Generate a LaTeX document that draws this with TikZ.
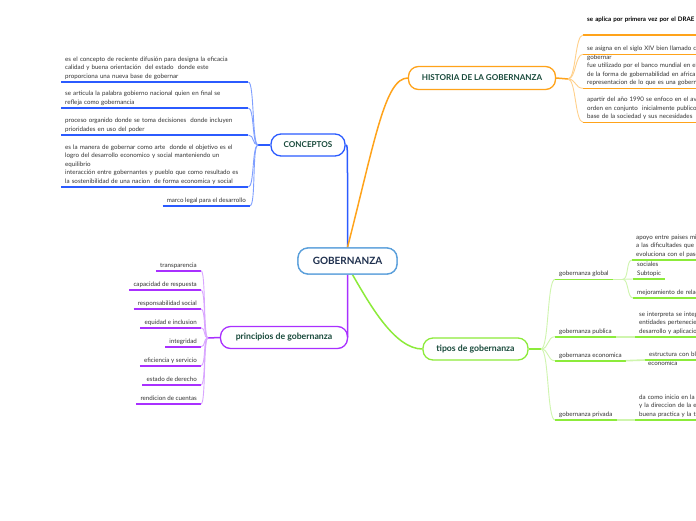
\documentclass[tikz,border=0pt]{standalone}
\usepackage{fontspec}
\setmainfont{Lato}
\definecolor{cblue}{HTML}{2B5BFF}
\definecolor{cblueL}{HTML}{7F9FFF}
\definecolor{corange}{HTML}{FFA31A}
\definecolor{corangeL}{HTML}{FFD08A}
\definecolor{cpurple}{HTML}{A930FF}
\definecolor{cpurpleL}{HTML}{D9A6FF}
\definecolor{cgreen}{HTML}{8CEB3A}
\definecolor{cgreenL}{HTML}{CFF5AE}
\definecolor{ccentral}{HTML}{5A9FDB}
\definecolor{htext}{HTML}{17493A}
\definecolor{ctext}{HTML}{1E2F4D}
\definecolor{btext}{HTML}{333333}
\newcommand{\mydd}[1]{\vrule width 0pt height 0pt depth #1}
\begin{document}
\begin{tikzpicture}[x=1pt,y=-1pt,
  hdr/.style={draw=#1, line width=1.3pt, fill=white, rounded corners=10pt,
    font=\fontsize{8.1}{9}\selectfont\bfseries, text=htext, inner sep=0pt},
  hdrl/.style={hdr=#1, font=\fontsize{8.7}{9}\selectfont\bfseries},
  item/.style={font=\fontsize{6.2}{8.5}\selectfont, text=btext, inner xsep=4pt,
    inner ysep=2pt, align=left, execute at end node={\mydd{1.5pt}}},
  ul/.style={draw=#1, line width=1.6pt},
  main/.style={draw=#1, line width=1.5pt},
  thin/.style={draw=#1, line width=0.9pt}
]
\useasboundingbox (0,0) rectangle (696,520);
\clip (0,0) rectangle (696,520);
\fill[white] (0,0) rectangle (696,520);

% ---------- header nodes ----------
\coordinate (pc) at (347.5,261);
\node[hdr=ccentral, minimum width=99pt, minimum height=26pt, font=\fontsize{10}{12}\selectfont\bfseries, text=ctext] (central) at (pc) {GOBERNANZA};
\node[hdr=cblue, minimum width=74pt, minimum height=22pt] (conceptos) at (308,145) {CONCEPTOS};
\node[hdr=corange, minimum width=147pt, minimum height=23pt] (historia) at (482,78) {HISTORIA DE LA GOBERNANZA};
\node[hdrl=cpurple, minimum width=127pt, minimum height=22pt] (principios) at (284,337.5) {principios de gobernanza};
\node[hdrl=cgreen, minimum width=105pt, minimum height=22pt] (tipos) at (475.5,349) {tipos de gobernanza};

% ---------- main branches ----------
\draw[main=cblue] (central.north -| pc) -- ++(0,-60) .. controls (central |- conceptos) .. (conceptos.east);
\draw[main=corange] (central.north -| pc) .. controls (375,140) and (385,78) .. (historia.west);
\draw[main=cpurple] (central.south -| pc) -- ++(0,35) .. controls (central |- principios) .. (principios.east);
\draw[main=cgreen] ([xshift=5pt]central.south) .. controls (370,305) and (395,349) .. (tipos.west);

% ---------- CONCEPTOS items ----------
\node[item, text width=179pt, anchor=south west] (c1) at (61,82) {es el concepto de reciente difusión para designa la eficacia\\calidad y buena orientación~ del estado~ donde este\\proporciona una nueva base de gobernar};
\node[item, text width=179pt, anchor=south west] (c2) at (61,108) {se articula la palabra gobierno nacional quien en final se\\refleja como gobernancia};
\node[item, text width=179pt, anchor=south west] (c3) at (61,135) {proceso organido donde se toma decisiones~ donde incluyen\\prioridades en uso del poder};
\node[item, text width=179pt, anchor=south west] (c4) at (61,187) {es la manera de gobernar como arte~ donde el objetivo es el\\logro del desarrollo economico y social manteniendo un\\equilibrio\\interacción entre gobernantes y pueblo que como resultado es\\la sostenibilidad de una nacion~ de forma economica y social};
\node[item, anchor=south east] (c5) at (250,205.7) {marco legal para el desarrollo};
\coordinate (jc) at (258,145);
\draw[main=cblue] (conceptos.west) -- (jc);
\foreach \n in {c1,c2,c3,c4,c5}{
  \draw[ul=cblue] (\n.south west) -- (\n.south east);
  \draw[thin=cblueL] (jc) .. controls +(-6,0) and +(6,0) .. (\n.south east);
}

% ---------- HISTORIA items ----------
\node[item, text width=150pt, anchor=south west, font=\fontsize{6.2}{8.5}\selectfont\bfseries, text=black] (h1) at (583,35) {se aplica por primera vez por el DRAE\mydd{11.5pt}};
\node[item, text width=150pt, anchor=south west] (h2) at (583,54.3) {se asigna en el siglo XIV bien llamado como};
\node[item, text width=150pt, anchor=south west] (h3) at (583,88.3) {gobernar\\fue utilizado por el banco mundial en el año\\de la forma de gobernabilidad en africa como\\representacion de lo que es una gobernanza};
\node[item, text width=150pt, anchor=south west] (h4) at (583,122.3) {apartir del año 1990 se enfoco en el avance\\orden en conjunto~ inicialmente publico\\base de la sociedad y sus necesidades};
\coordinate (jh) at (568,79);
\draw[main=corange] (historia.east) -- (jh);
\foreach \n in {h1,h2,h3,h4}{
  \draw[ul=corange] (\n.south west) -- (\n.south east);
  \draw[thin=corangeL] (jh) .. controls +(8,0) and +(-8,0) .. (\n.south west);
}

% ---------- PRINCIPIOS items ----------
\node[item, anchor=south east] (p1) at (201,270.7) {transparencia};
\node[item, anchor=south east] (p2) at (201,290) {capacidad de respuesta};
\node[item, anchor=south east] (p3) at (201,309) {responsabilidad social};
\node[item, anchor=south east] (p4) at (201,327.7) {equidad e inclusion};
\node[item, anchor=south east] (p5) at (201,346.7) {integridad};
\node[item, anchor=south east] (p6) at (201,365.7) {eficiencia y servicio};
\node[item, anchor=south east] (p7) at (201,385) {estado de derecho};
\node[item, anchor=south east] (p8) at (201,404) {rendicion de cuentas};
\coordinate (jp) at (208,338);
\draw[main=cpurple] (principios.west) -- (jp);
\foreach \n in {p1,p2,p3,p4,p5,p6,p7,p8}{
  \draw[ul=cpurple] (\n.south west) -- (\n.south east);
  \draw[thin=cpurpleL] (jp) .. controls +(-5,0) and +(5,0) .. (\n.south east);
}

% ---------- TIPOS items ----------
\node[item, anchor=south west] (g1) at (555,279.3) {gobernanza global};
\node[item, anchor=south west] (g2) at (555,336.7) {gobernanza publica};
\node[item, anchor=south west] (g3) at (555,360.7) {gobernanza economica};
\node[item, anchor=south west] (g4) at (555,420) {gobernanza privada};
\coordinate (jt) at (541,349);
\draw[main=cgreen] (tipos.east) -- (jt);
\foreach \n in {g1,g2,g3,g4}{
  \draw[ul=cgreen] (\n.south west) -- (\n.south east);
  \draw[thin=cgreenL] (jt) .. controls +(8,0) and +(-8,0) .. (\n.south west);
}

% sub-items
\node[item, text width=100pt, anchor=south west] (ga) at (632,260) {apoyo entre paises miembros\\a las dificultades que se\\evoluciona con el paso};
\node[item, anchor=south west] (gb) at (633,279) {sociales\\Subtopic};
\node[item, text width=100pt, anchor=south west] (gc) at (633,298) {mejoramiento de relaciones};
\node[item, text width=100pt, anchor=south west] (q1) at (635,336.7) {se interpreta se integran\\entidades pertenecientes\\desarrollo y aplicacion};
\node[item, text width=100pt, anchor=south west] (e1) at (645,360) {estructura con bloques};
\node[item, anchor=base west, inner sep=0pt, execute at end node={}] (e2) at (648,365) {economica};
\node[item, text width=100pt, anchor=south west] (r1) at (635,420) {da como inicio en la empresa\\y la direccion de la empresa\\buena practica y la toma};
\foreach \n in {ga,gb,gc,q1,e1,r1}{
  \draw[ul=cgreen] (\n.south west) -- (\n.south east);
}
\draw[ul=cgreenL] (g1.south east) -- ++(10,0) coordinate (jg);
\foreach \n in {ga,gb,gc}{
  \draw[thin=cgreenL] (jg) .. controls +(6,0) and +(-6,0) .. (\n.south west);
}
\draw[ul=cgreenL] (g2.south east) -- (q1.south west);
\draw[ul=cgreenL] (g3.south east) -- (e1.south west);
\draw[ul=cgreenL] (g4.south east) -- (r1.south west);

% central on top of the branch lines
\node[hdr=ccentral, minimum width=99pt, minimum height=26pt, font=\fontsize{10}{12}\selectfont\bfseries, text=ctext] at (central) {GOBERNANZA};
\end{tikzpicture}
\end{document}
